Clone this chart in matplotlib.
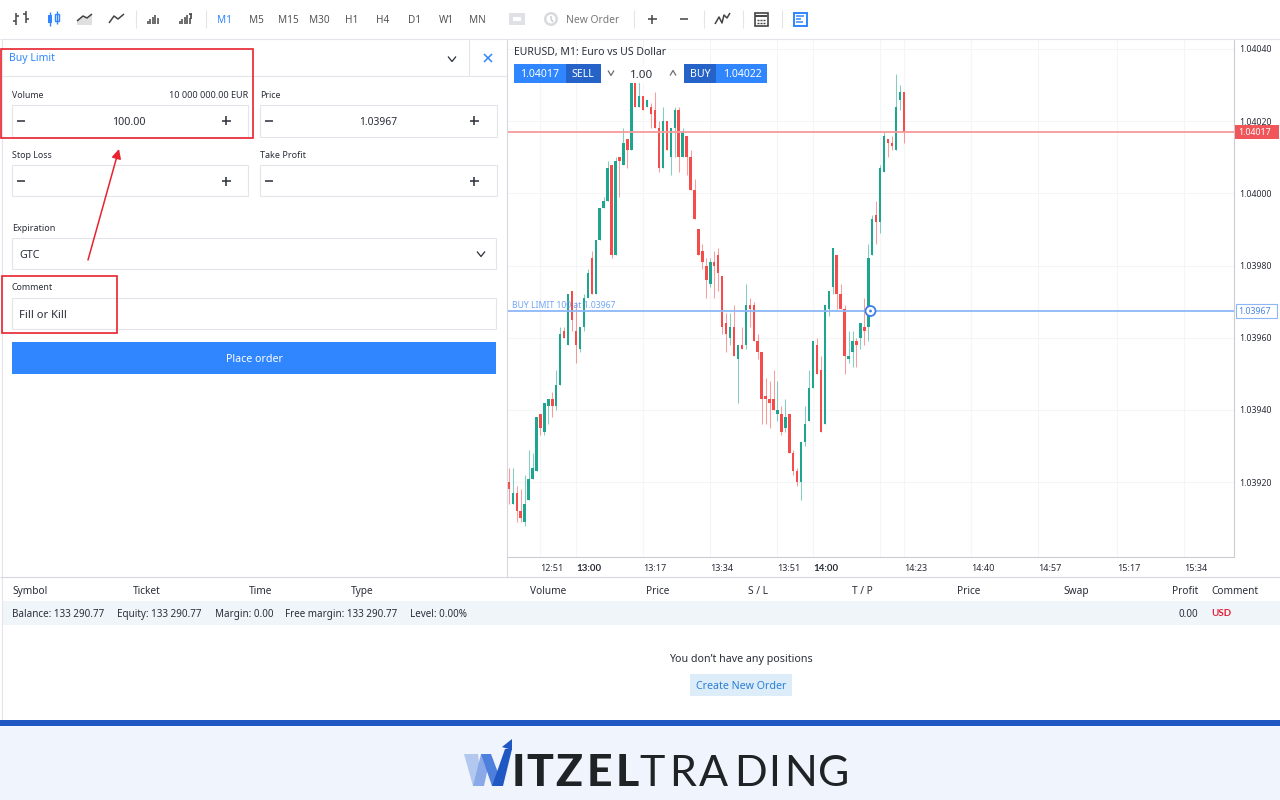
import matplotlib
matplotlib.use('Agg')
import matplotlib.pyplot as plt
from matplotlib.patches import Rectangle, Polygon, Circle

plt.rcParams['font.family'] = ['Noto Sans', 'DejaVu Sans']

W, H = 1280, 800

# minutes from 13:00, one candle a minute
minutes = list(range(-17, 84))

opens = [
    1.03920, 1.03914, 1.03917, 1.03912, 1.03909, 1.03915, 1.03921, 1.03923, 1.03939, 1.03934,
    1.03941, 1.03943, 1.03941, 1.03947, 1.03962, 1.03958, 1.03973, 1.03962, 1.03957, 1.03963,
    1.03971, 1.03982, 1.03972, 1.03987, 1.03996, 1.03998, 1.04008, 1.03983, 1.04010, 1.04008,
    1.04015, 1.04012, 1.04032, 1.04024, 1.04027, 1.04024, 1.04024, 1.04023, 1.04018, 1.04007,
    1.04020, 1.04010, 1.04018, 1.04023, 1.04010, 1.04016, 1.04010, 1.04001, 1.03990, 1.03984,
    1.03980, 1.03975, 1.03981, 1.03983, 1.03977, 1.03964, 1.03960, 1.03963, 1.03954, 1.03958,
    1.03958, 1.03969, 1.03969, 1.03959, 1.03956, 1.03944, 1.03943, 1.03943, 1.03939, 1.03939,
    1.03935, 1.03939, 1.03928, 1.03923, 1.03920, 1.03931, 1.03937, 1.03946, 1.03958, 1.03951,
    1.03936, 1.03968, 1.03974, 1.03983, 1.03972, 1.03968, 1.03954, 1.03956, 1.03959, 1.03960,
    1.03963, 1.03963, 1.03983, 1.03994, 1.03992, 1.04006, 1.04015, 1.04014, 1.04012, 1.04026,
    1.04028,
]
highs = [
    1.03924, 1.03924, 1.03919, 1.03918, 1.03922, 1.03929, 1.03928, 1.03938, 1.03939, 1.03942,
    1.03943, 1.03945, 1.03951, 1.03963, 1.03963, 1.03972, 1.03973, 1.03970, 1.03963, 1.03972,
    1.03979, 1.03984, 1.03987, 1.03996, 1.03999, 1.04009, 1.04008, 1.04010, 1.04010, 1.04018,
    1.04015, 1.04032, 1.04032, 1.04031, 1.04027, 1.04026, 1.04025, 1.04028, 1.04020, 1.04024,
    1.04020, 1.04018, 1.04024, 1.04024, 1.04018, 1.04016, 1.04012, 1.04004, 1.03990, 1.03986,
    1.03982, 1.03982, 1.03984, 1.03985, 1.03977, 1.03967, 1.03967, 1.03969, 1.03958, 1.03963,
    1.03975, 1.03971, 1.03970, 1.03961, 1.03956, 1.03949, 1.03948, 1.03951, 1.03948, 1.03941,
    1.03943, 1.03939, 1.03929, 1.03924, 1.03931, 1.03941, 1.03951, 1.03959, 1.03960, 1.03955,
    1.03969, 1.03973, 1.03985, 1.03983, 1.03975, 1.03969, 1.03962, 1.03962, 1.03960, 1.03964,
    1.03971, 1.03986, 1.03994, 1.03998, 1.04008, 1.04017, 1.04015, 1.04016, 1.04033, 1.04030,
    1.04028,
]
lows = [
    1.03914, 1.03914, 1.03909, 1.03909, 1.03908, 1.03915, 1.03921, 1.03923, 1.03933, 1.03933,
    1.03936, 1.03938, 1.03940, 1.03947, 1.03960, 1.03958, 1.03962, 1.03953, 1.03956, 1.03962,
    1.03971, 1.03972, 1.03972, 1.03987, 1.03996, 1.03998, 1.03982, 1.03983, 1.03999, 1.04008,
    1.04007, 1.04012, 1.04024, 1.04024, 1.04023, 1.04024, 1.04018, 1.04018, 1.04006, 1.04007,
    1.04012, 1.04005, 1.04010, 1.04006, 1.04010, 1.04005, 1.04001, 1.03993, 1.03983, 1.03979,
    1.03971, 1.03974, 1.03971, 1.03973, 1.03961, 1.03956, 1.03958, 1.03955, 1.03942, 1.03957,
    1.03957, 1.03963, 1.03959, 1.03954, 1.03936, 1.03936, 1.03935, 1.03940, 1.03937, 1.03933,
    1.03934, 1.03928, 1.03922, 1.03919, 1.03915, 1.03930, 1.03937, 1.03946, 1.03950, 1.03934,
    1.03936, 1.03966, 1.03972, 1.03968, 1.03968, 1.03950, 1.03953, 1.03952, 1.03952, 1.03957,
    1.03958, 1.03959, 1.03983, 1.03986, 1.03989, 1.04006, 1.04010, 1.04012, 1.04012, 1.04023,
    1.04014,
]
closes = [
    1.03918, 1.03917, 1.03912, 1.03910, 1.03914, 1.03921, 1.03924, 1.03938, 1.03935, 1.03942,
    1.03943, 1.03941, 1.03947, 1.03961, 1.03960, 1.03972, 1.03965, 1.03958, 1.03963, 1.03971,
    1.03978, 1.03972, 1.03987, 1.03996, 1.03998, 1.04007, 1.03983, 1.04009, 1.04009, 1.04014,
    1.04012, 1.04031, 1.04024, 1.04027, 1.04023, 1.04026, 1.04022, 1.04018, 1.04007, 1.04020,
    1.04012, 1.04018, 1.04023, 1.04010, 1.04017, 1.04010, 1.04001, 1.03993, 1.03983, 1.03981,
    1.03976, 1.03981, 1.03980, 1.03978, 1.03963, 1.03961, 1.03963, 1.03955, 1.03958, 1.03957,
    1.03969, 1.03968, 1.03959, 1.03956, 1.03943, 1.03943, 1.03942, 1.03940, 1.03940, 1.03934,
    1.03938, 1.03928, 1.03923, 1.03920, 1.03931, 1.03936, 1.03946, 1.03959, 1.03950, 1.03934,
    1.03969, 1.03973, 1.03985, 1.03972, 1.03968, 1.03955, 1.03955, 1.03959, 1.03958, 1.03964,
    1.03962, 1.03982, 1.03993, 1.03992, 1.04007, 1.04016, 1.04014, 1.04013, 1.04024, 1.04028,
    1.04017,
]

price_ticks = [1.04040, 1.04020, 1.04000, 1.03980, 1.03960, 1.03940, 1.03920]
grid_minutes = [-9, 0, 17, 34, 51, 60, 77, 83, 100, 117, 137, 154]
grid_labels = ['12:51', '13:00', '13:17', '13:34', '13:51', '14:00', '', '14:23', '14:40', '14:57', '15:17', '15:34']
bid_price = 1.04017
limit_price = 1.039675

timeframes = ['M1', 'M5', 'M15', 'M30', 'H1', 'H4', 'D1', 'W1', 'MN']
table_left = [('Symbol', 12), ('Ticket', 133), ('Time', 249), ('Type', 351), ('Volume', 530), ('Price', 646),
              ('S / L', 748), ('T / P', 852), ('Price', 957), ('Swap', 1063), ('Comment', 1211)]
balance_items = [('Balance: 133 290.77', 12), ('Equity: 133 290.77', 117), ('Margin: 0.00', 215),
                 ('Free margin: 133 290.77', 285), ('Level: 0.00%', 410)]
logo_bold = [('I', 518), ('T', 539.5), ('Z', 569), ('E', 599), ('L', 627)]
logo_thin = [('T', 652.5), ('R', 683), ('A', 713), ('D', 751), ('I', 774.5), ('N', 800.5), ('G', 833.5)]

BLUE = '#2f86ff'
DARK_BLUE = '#2563c9'
GREEN = '#1ea58f'
RED = '#f44b4b'
TXT = '#2a2e39'
GRAY = '#6e6e6e'
BORDER = '#e3e5ea'

fig = plt.figure(figsize=(W / 100, H / 100), dpi=100, facecolor='white')


def rect_axes(x0, y0, x1, y1):
    return fig.add_axes([x0 / W, 1 - y1 / H, (x1 - x0) / W, (y1 - y0) / H])


# chart
ax = rect_axes(507, 39, 1234, 557)
ax.set_zorder(1)
px = 1e-5 / 3.61
ax.set_ylim(1.04040 - 508 * px, 1.04040 + 10 * px)
ax.set_xlim((507 - 576) / 3.95, (1234 - 576) / 3.95)
ax.set_xticks(grid_minutes)
ax.set_xticklabels(grid_labels, ha='left')
ax.set_yticks(price_ticks)
ax.set_yticklabels(['%.5f' % p for p in price_ticks])
ax.yaxis.tick_right()
ax.tick_params(axis='both', length=0, labelsize=6.5, labelcolor=TXT)
ax.tick_params(axis='x', pad=5)
ax.tick_params(axis='y', pad=4, labelsize=6.3)
for lab in ax.get_xticklabels():
    if lab.get_text() in ('13:00', '14:00'):
        lab.set_family('Lato')
        lab.set_fontweight('bold')
        lab.set_fontsize(7)
ax.grid(color='#f4f5f7', linewidth=0.8)
ax.set_axisbelow(True)
for side in ['top', 'left']:
    ax.spines[side].set_visible(False)
for side in ['right', 'bottom']:
    ax.spines[side].set_color('#c9ccd3')
    ax.spines[side].set_linewidth(0.8)

candle_c = [GREEN if c >= o else RED for o, c in zip(opens, closes)]
ax.vlines(minutes, lows, highs, colors=candle_c, linewidth=0.75, alpha=0.55, zorder=2)
ax.bar(minutes, [abs(c - o) for o, c in zip(opens, closes)], bottom=[min(o, c) for o, c in zip(opens, closes)],
       width=0.62, color=candle_c, linewidth=0, zorder=3)
ax.axhline(bid_price, color='#f79a9a', linewidth=1.3, zorder=4)
ax.axhline(limit_price, color='#8db7f7', linewidth=1.3, zorder=4)

# everything else sits in a pixel-space overlay
ui = fig.add_axes([0, 0, 1, 1], zorder=5)
ui.set_xlim(0, W)
ui.set_ylim(H, 0)
ui.axis('off')
ui.patch.set_alpha(0)


def box(x0, y0, x1, y1, fc='white', ec='none', lw=0.8, z=1):
    ui.add_patch(Rectangle((x0, y0), x1 - x0, y1 - y0, facecolor=fc, edgecolor=ec, linewidth=lw, zorder=z))


def line(xs, ys, c=BORDER, lw=0.8, z=2):
    ui.plot(xs, ys, color=c, linewidth=lw, zorder=z, solid_capstyle='butt')


def label(x, y, s, size=6.6, c=TXT, ha='left', weight='normal', z=5, family=None):
    # baseline placed from the wanted centre so a row of labels lines up
    ui.text(x, y + 1 + size * 0.5, s, fontsize=size, color=c, ha=ha, va='baseline', fontweight=weight, zorder=z,
            family=family if family else ['Noto Sans', 'DejaVu Sans'])


def plus(x, y, c=TXT, r=4.5):
    line([x - r, x + r], [y, y], c, 1.1, 4)
    line([x, x], [y - r, y + r], c, 1.1, 4)


def minus(x, y, c=TXT, r=4):
    line([x - r, x + r], [y, y], c, 1.1, 4)


def chevron(x, y, c='#555555', r=4, up=False):
    d = -2.5 if up else 2.5
    line([x - r, x, x + r], [y - d, y + d, y - d], c, 0.9, 4)


# left form panel
box(0, 39, 506, 577, z=0.5)
line([0, 1280], [38.5, 38.5])
line([506.5, 506.5], [39, 577], '#d5d8de')
line([1.5, 1.5], [39, 720])
line([0, 507], [75.5, 75.5])
line([468.5, 468.5], [39, 76])
label(9, 56, 'Buy Limit', 7.5, BLUE)
chevron(452, 59, TXT)
line([484, 492], [54, 62], BLUE, 1.1)
line([484, 492], [62, 54], BLUE, 1.1)

label(12, 93.5, 'Volume', 6.3)
label(248, 93.5, '10 000 000.00 EUR', 6.5, ha='right')
label(260, 93.5, 'Price', 6.3)
box(11.5, 105, 248, 137, ec=BORDER)
box(260, 105, 497, 137, ec=BORDER)
label(129, 120, '100.00', 7.7, ha='center')
label(378, 120, '1.03967', 7.4, ha='center')
minus(21, 120.5)
plus(226, 120.5)
minus(269, 120.5)
plus(474, 120.5)

label(12, 154, 'Stop Loss', 6.4)
label(260, 154, 'Take Profit', 6.5)
box(11.5, 165, 248, 196, ec=BORDER)
box(260, 165, 497, 196, ec=BORDER)
minus(21, 181)
plus(226, 181)
minus(269, 181)
plus(474, 181)

label(12, 227, 'Expiration', 6.5)
box(12, 238, 496, 269, ec=BORDER)
label(19, 253, 'GTC', 7.7)
chevron(481, 254, TXT)

label(12, 286, 'Comment', 6.4)
box(12, 298, 496, 329, ec=BORDER)
label(19, 313, 'Fill or Kill', 8)

box(12, 342, 496, 374, fc=BLUE)
label(254, 357, 'Place order', 7.7, 'white', ha='center')

# red annotation boxes and arrow
box(0.5, 48.5, 253, 138, fc='none', ec='#e8222e', lw=1.2, z=6)
box(1.5, 276, 117, 333, fc='none', ec='#e8222e', lw=1.2, z=6)
ui.annotate('', xy=(119, 149), xytext=(88, 260), zorder=6,
            arrowprops=dict(arrowstyle='-|>', color='#e8222e', lw=1.1, mutation_scale=14, shrinkA=0, shrinkB=0))

# chart overlay texts
label(514, 50.5, 'EURUSD, M1: Euro vs US Dollar', 7.5)
box(514, 64, 566, 83, fc=BLUE)
box(566, 64, 601, 83, fc=DARK_BLUE)
box(601, 64, 684, 83)
box(684, 64, 716, 83, fc=DARK_BLUE)
box(716, 64, 767, 83, fc=BLUE)
label(540, 72.5, '1.04017', 7.5, 'white', ha='center')
label(583, 72.5, 'SELL', 7.6, 'white', ha='center')
label(642, 72.5, '1.00', 8.3, TXT, ha='center')
label(700, 72.5, 'BUY', 7.6, 'white', ha='center')
label(742, 72.5, '1.04022', 7.5, 'white', ha='center')
chevron(611, 73, GRAY, 3)
chevron(673, 73, GRAY, 3, up=True)
label(511.5, 304, 'BUY LIMIT 100 at 1.03967', 6.2, '#6ea4f5')

# price tags on the right scale
box(1235, 125, 1279, 139, fc='#f0555a')
label(1255, 131, '1.04017', 6.3, 'white', ha='center')
box(1235.5, 304, 1277, 318, ec='#8db7f7', lw=0.8)
label(1254, 310, '1.03967', 6.3, '#4a86e8', ha='center')

ui.add_patch(Circle((870.5, 311), 5, facecolor='white', edgecolor='#3d7fe6', linewidth=1.3, zorder=6))
ui.add_patch(Circle((870.5, 311), 1.4, facecolor='#3d7fe6', edgecolor='none', zorder=7))

# top toolbar
for i, tf in enumerate(timeframes):
    label(225 + i * 31.6, 18.5, tf, 7.2, BLUE if tf == 'M1' else '#555555', ha='center')
for sx in [135, 205, 633, 703, 742, 781]:
    line([sx + 0.5, sx + 0.5], [10, 28], BORDER)

# bar icon
line([16, 16], [13, 25], '#444444', 1.1, 4)
line([26, 26], [11, 23], '#444444', 1.1, 4)
line([13, 16], [21, 21], '#444444', 1.1, 4)
line([16, 19], [16, 16], '#444444', 1.1, 4)
line([23, 26], [14, 14], '#444444', 1.1, 4)
line([26, 29], [19, 19], '#444444', 1.1, 4)
# candle icon
box(48, 15, 52, 23, fc=BLUE, z=4)
line([50, 50], [12, 26], BLUE, 1, 4)
box(55, 14, 59, 21, fc='white', ec=BLUE, lw=1, z=4)
line([57, 57], [11, 24], BLUE, 1, 4)
# area and line icons
ui.add_patch(Polygon([(77, 25), (77, 21), (83, 16), (87, 18), (92, 14), (92, 25)], fc='#e0e0e0', ec='none', zorder=3))
line([77, 83, 87, 92], [21, 16, 18, 14], '#444444', 1.1, 4)
line([109, 114, 118, 124], [23, 16, 19, 14], '#444444', 1.1, 4)
# histogram icons
for x0 in [148, 180]:
    for j, h in enumerate([3, 5, 7, 9, 6]):
        line([x0 + j * 2.4, x0 + j * 2.4], [24, 24 - h], '#555555', 1.2, 4)
line([189, 192], [14, 14], '#444444', 1.2, 4)
line([190.5, 190.5], [14, 19], '#444444', 1.2, 4)

# right side of toolbar
box(509, 13, 525, 25, fc='#dfe1e5', z=3)
box(513, 17, 521, 21, fc='white', z=4)
ui.add_patch(Circle((551, 19), 7, facecolor='#d8dadd', edgecolor='none', zorder=3))
ui.add_patch(Circle((551, 19), 4.5, facecolor='white', edgecolor='none', zorder=4))
line([551, 551, 553], [16, 19, 22], '#c8cacd', 1, 5)
label(593, 18.5, 'New Order', 7.4, '#777777', ha='center')
plus(652, 19, '#444444')
minus(684, 19, '#444444')
line([715, 719, 722, 724, 727, 730], [24, 17, 23, 15, 18, 13], '#444444', 1.1, 4)
box(754.5, 13, 767.5, 25.5, fc='white', ec='#444444', lw=1.2, z=4)
line([755, 767], [15.5, 15.5], '#444444', 1.4, 5)
for gx in [758, 761, 764]:
    for gy in [19.5, 22.5]:
        line([gx - 0.7, gx + 0.7], [gy, gy], '#444444', 1, 5)
box(793.5, 12.5, 806.5, 25.5, fc='white', ec=BLUE, lw=1.4, z=4)
for ly, lx in [(16, 804), (19, 801), (22, 803)]:
    line([796, lx], [ly, ly], BLUE, 1.1, 5)

# positions table
box(0, 577, 1280, 720, z=0.5)
line([0, 1280], [577, 577], '#d5d8de')
for name, tx in table_left:
    label(tx, 589, name, 7.3)
label(1198, 589, 'Profit', 7.3, ha='right')
box(2, 601, 1280, 624.5, fc='#f0f5fa', z=1)
for name, tx in balance_items:
    label(tx, 612, name, 7.1)
label(1198, 612, '0.00', 7.1, ha='right')
label(1211, 612, 'USD', 7, '#e3223a', weight='bold', family='Lato')
label(741, 657, "You don\u2019t have any positions", 7.7, ha='center')
box(690, 674, 792, 696, fc='#dcecf8')
label(741, 684.5, 'Create New Order', 7.65, '#2b7fd6', ha='center')

# footer
box(0, 726, 1280, 800, fc='#f0f4fd', z=1)
box(0, 720, 1280, 726, fc='#1f57c3', z=2)
ui.add_patch(Polygon([(464, 754), (478, 754), (482, 786), (473, 786)], fc='#b3c8ef', ec='none', zorder=3))
ui.add_patch(Polygon([(473, 786), (484, 786), (491, 754), (481, 754)], fc='#8aa9e8', ec='none', zorder=3))
ui.add_patch(Polygon([(481, 754), (491, 754), (503, 786), (492, 786)], fc='#4f7fdc', ec='none', zorder=3))
ui.add_patch(Polygon([(492, 786), (503, 786), (512, 749), (505, 749)], fc='#1f57c3', ec='none', zorder=4))
ui.add_patch(Polygon([(502, 747), (512, 739), (512, 750)], fc='#1f57c3', ec='none', zorder=4))
for ch, cx in logo_bold:
    ui.text(cx, 786, ch, fontsize=32, family='Lato', fontweight='black', color='#1f2326', ha='center', va='baseline', zorder=3)
for ch, cx in logo_thin:
    ui.text(cx, 786, ch, fontsize=31, family='Lato', fontweight='normal', color='#1f2326', ha='center', va='baseline', zorder=3)

fig.savefig('out.png', dpi=100)
